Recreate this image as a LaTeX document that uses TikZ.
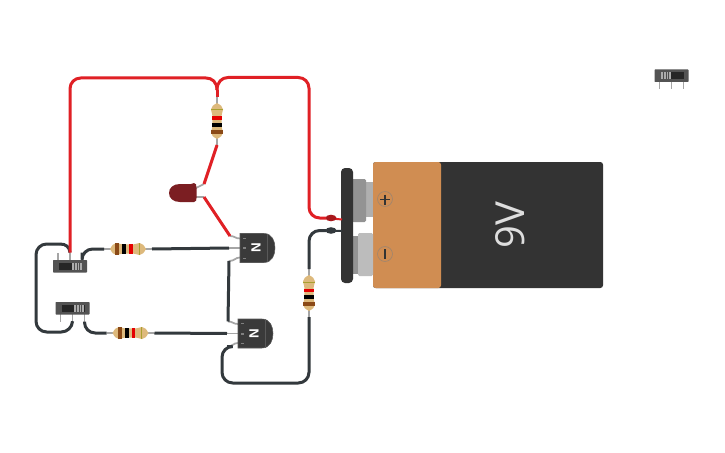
\documentclass[tikz,border=0pt]{standalone}
\usepackage{fontspec}
\setmainfont{Open Sans}
\newfontfamily\partfont{Liberation Sans}
\definecolor{wirered}{HTML}{E02025}
\definecolor{wiredark}{HTML}{33393D}
\definecolor{leadgrey}{HTML}{A5A5A5}
\definecolor{restan}{HTML}{DDB97C}
\definecolor{resbrown}{HTML}{8B4A17}
\definecolor{resgold}{HTML}{A8A030}
\definecolor{case}{HTML}{3A3A3A}
\definecolor{ledred}{HTML}{7B1E22}
\definecolor{batorange}{HTML}{D08D52}
\definecolor{batdark}{HTML}{333333}
\tikzset{
  wr/.style={draw=wirered,line width=2.25pt,rounded corners=8pt},
  wk/.style={draw=wiredark,line width=2.25pt,rounded corners=8pt},
  leadline/.style={draw=leadgrey,line width=1.3pt},
  partlabel/.style={font=\partfont\bfseries\fontsize{10}{10}\selectfont,text=white,inner sep=0pt,rotate=90},
}
% name, centre x, centre y, rotation (gold end first along local x)
\newcommand{\resistorpart}[4]{%
  \begin{scope}[shift={(#2,#3)},rotate=#4]
    \coordinate (#1-a) at (-24,0);
    \coordinate (#1-b) at (24,0);
    \draw[leadline] (-24,0) -- (24,0);
    \fill[restan] (-18,0) .. controls (-16,-3) and (-15,-6) .. (-11.5,-6) .. controls (-9,-6) and (-8,-4.7) .. (-6,-4.7) -- (6,-4.7) .. controls (8,-4.7) and (9,-6) .. (11.5,-6) .. controls (15,-6) and (16,-3) .. (18,0) .. controls (16,3) and (15,6) .. (11.5,6) .. controls (9,6) and (8,4.7) .. (6,4.7) -- (-6,4.7) .. controls (-8,4.7) and (-9,6) .. (-11.5,6) .. controls (-15,6) and (-16,3) .. (-18,0) -- cycle;
    \fill[resgold] (-11.5,-6) rectangle (-10.5,6);
    \fill[red!90!black] (-4.5,-4.7) rectangle (-1,4.7);
    \fill[black] (2,-4.7) rectangle (5.8,4.7);
    \fill[resbrown] (9,-6) rectangle (13,6);
  \end{scope}}
% name, left x, centre y
\newcommand{\transistorpart}[3]{%
  \begin{scope}[shift={(#2,#3)}]
    \coordinate (#1-c) at (-10,-12);
    \coordinate (#1-b) at (-11,0);
    \coordinate (#1-e) at (-11,13);
    \draw[leadline] (0,-9.5) .. controls (-5,-9.5) and (-5,-12) .. (-10,-12);
    \draw[leadline] (0,0) -- (-11,0);
    \draw[leadline] (0,9.5) .. controls (-5,9.5) and (-5,13) .. (-11,13);
    \filldraw[fill=case,draw=gray!70!black,line width=.4pt] (0,-14.5) -- (24,-14.5) .. controls (32,-14.5) and (35,-7) .. (35,0) .. controls (35,7) and (32,14.5) .. (24,14.5) -- (0,14.5) -- cycle;
    \draw[gray!70!black,line width=.5pt] (27,-14) -- (27,14);
    \fill[gray] (3,-10.5) rectangle (6,-9.5);
    \fill[gray] (3,-1) rectangle (6,1);
    \fill[gray] (3,9.5) rectangle (6,10.5);
    \node[partlabel] (#1-label) at (16,0) {N};
  \end{scope}}
% name, body left, body top, pin direction (+1 down, -1 up), grip left (local)
\newcommand{\switchpart}[5]{%
  \begin{scope}[shift={(#2,#3)}]
    \coordinate (#1-l) at (5,{6+#4*13.5});
    \coordinate (#1-m) at (17,{6+#4*13.5});
    \coordinate (#1-r) at (29,{6+#4*13.5});
    \draw[leadline] (5,6) -- (#1-l);
    \draw[leadline] (17,6) -- (#1-m);
    \draw[leadline] (29,6) -- (#1-r);
    \fill[rounded corners=.5pt,fill=gray!65!black] (0,0) rectangle (34,12.5);
    \fill[black!85] (6,2.5) rectangle (29,10);
    \fill[gray!65] (#5,2.5) rectangle ({#5+10},10);
    \foreach \k in {2,4.5,7}{\fill[black!70] ({#5+\k},3) rectangle ({#5+\k+.8},9.5);}
  \end{scope}}
\begin{document}
\begin{tikzpicture}[x=.75pt,y=-.75pt]
\useasboundingbox (0,0) rectangle (725,453);
\fill[white] (0,0) rectangle (725,453);

% battery
\fill[batdark,rounded corners=2pt] (373,162) rectangle (603,288);
\fill[batorange,rounded corners=2pt] (373,162) -- (441,162) -- (441,288) -- (373,288) -- cycle;
\fill[gray!25!lightgray] (366,182) rectangle (373,217);
\fill[gray!85!white,rounded corners=1pt] (352,179) rectangle (366,222);
\fill[gray!85!white] (352,236) rectangle (358,274);
\fill[lightgray!95!gray,rounded corners=1pt] (358,233) rectangle (373,276);
\fill[batdark,rounded corners=3pt] (341,168) rectangle (353,283);
\draw[gray!60!batorange,line width=.5pt] (385,199) circle (7.5);
\draw[gray!60!batorange,line width=.5pt] (385,254) circle (7.5);
\draw[batdark,line width=1.1pt] (380,199.5) -- (390,199.5) (385,194.5) -- (385,204.5);
\draw[batdark,line width=1.1pt] (385,249) -- (385,259);
\node[rotate=90,text=white!87!black,font=\fontsize{30}{30}\selectfont,inner sep=0pt] (volt) at (510.5,225) {9V};

% clips
\coordinate (plus) at (326,218);
\coordinate (minus) at (326,230.5);
\coordinate (plusin) at (342,219.5);
\coordinate (minusin) at (342,231);
\draw[wirered,line width=1.5pt] (plus) -- (plusin);
\draw[wiredark,line width=1.5pt] (minus) -- (minusin);
\fill[wirered!75!black] (331,218) ellipse (5.5 and 3.3);
\fill[wiredark] (331,230.5) ellipse (5.5 and 3.3);

% parts
\resistorpart{rtop}{217}{121}{-90}
\resistorpart{rbat}{309}{293}{-90}
\resistorpart{rone}{128}{249}{180}
\resistorpart{rtwo}{130.5}{333}{180}
\transistorpart{qone}{240}{248}
\transistorpart{qtwo}{238}{333.5}
\switchpart{swa}{53}{260}{-1}{19}
\switchpart{swb}{55.5}{302}{1}{18.5}
\switchpart{swc}{654.5}{69.5}{1}{6.5}

% LED
\coordinate (ledt) at (204,184);
\coordinate (ledb) at (204,197);
\draw[leadline] (194,189) -- (ledt);
\draw[leadline] (194,197) -- (ledb);
\fill[ledred] (180,184) .. controls (173,184) and (169,188) .. (169,193) .. controls (169,198) and (173,202) .. (180,202) -- (194,202) .. controls (196,202) and (196.5,200) .. (196.5,198) -- (196.5,188) .. controls (196.5,185) and (196,183) .. (194,183) -- (191,184) -- cycle;

% wires
\coordinate (topj) at (217,90);
\draw[wiredark,line width=2.25pt] (swa-m) .. controls (69.5,247) and (66,244) .. (60,244);
\draw[wk] (60,244) -- (36,244) -- (36,332) -- (72,332) -- (swb-m);
\draw[wk] (swa-r) |- (rone-b);
\draw[wk] (rone-a) -- (qone-b);
\draw[wk] (swb-r) |- (rtwo-b);
\draw[wk] (rtwo-a) -- (qtwo-b);
\draw[wk] (qone-e) -- (qtwo-c);
\draw[wk] (qtwo-e) -- (222,346.5) -- (222,383) -- (309,383) -- (rbat-b);
\draw[wk] (rbat-a) -- (309,230.5) -- (minus);
\draw[wr] (swa-m) -- (70,78) -- (206,78);
\draw[wirered,line width=2.25pt] (206,78) .. controls (212,78) and (217,82) .. (topj);
\draw[wirered,line width=2.25pt] (topj) -- (rtop-a);
\draw[wirered,line width=2.25pt] (topj) .. controls (217,82) and (222,77.5) .. (228,77.5);
\draw[wr] (228,77.5) -- (309,77.5) -- (309,218) -- (plus);
\draw[wr] (rtop-b) -- (ledt);
\draw[wr] (ledb) -- (qone-c);
\end{tikzpicture}
\end{document}
